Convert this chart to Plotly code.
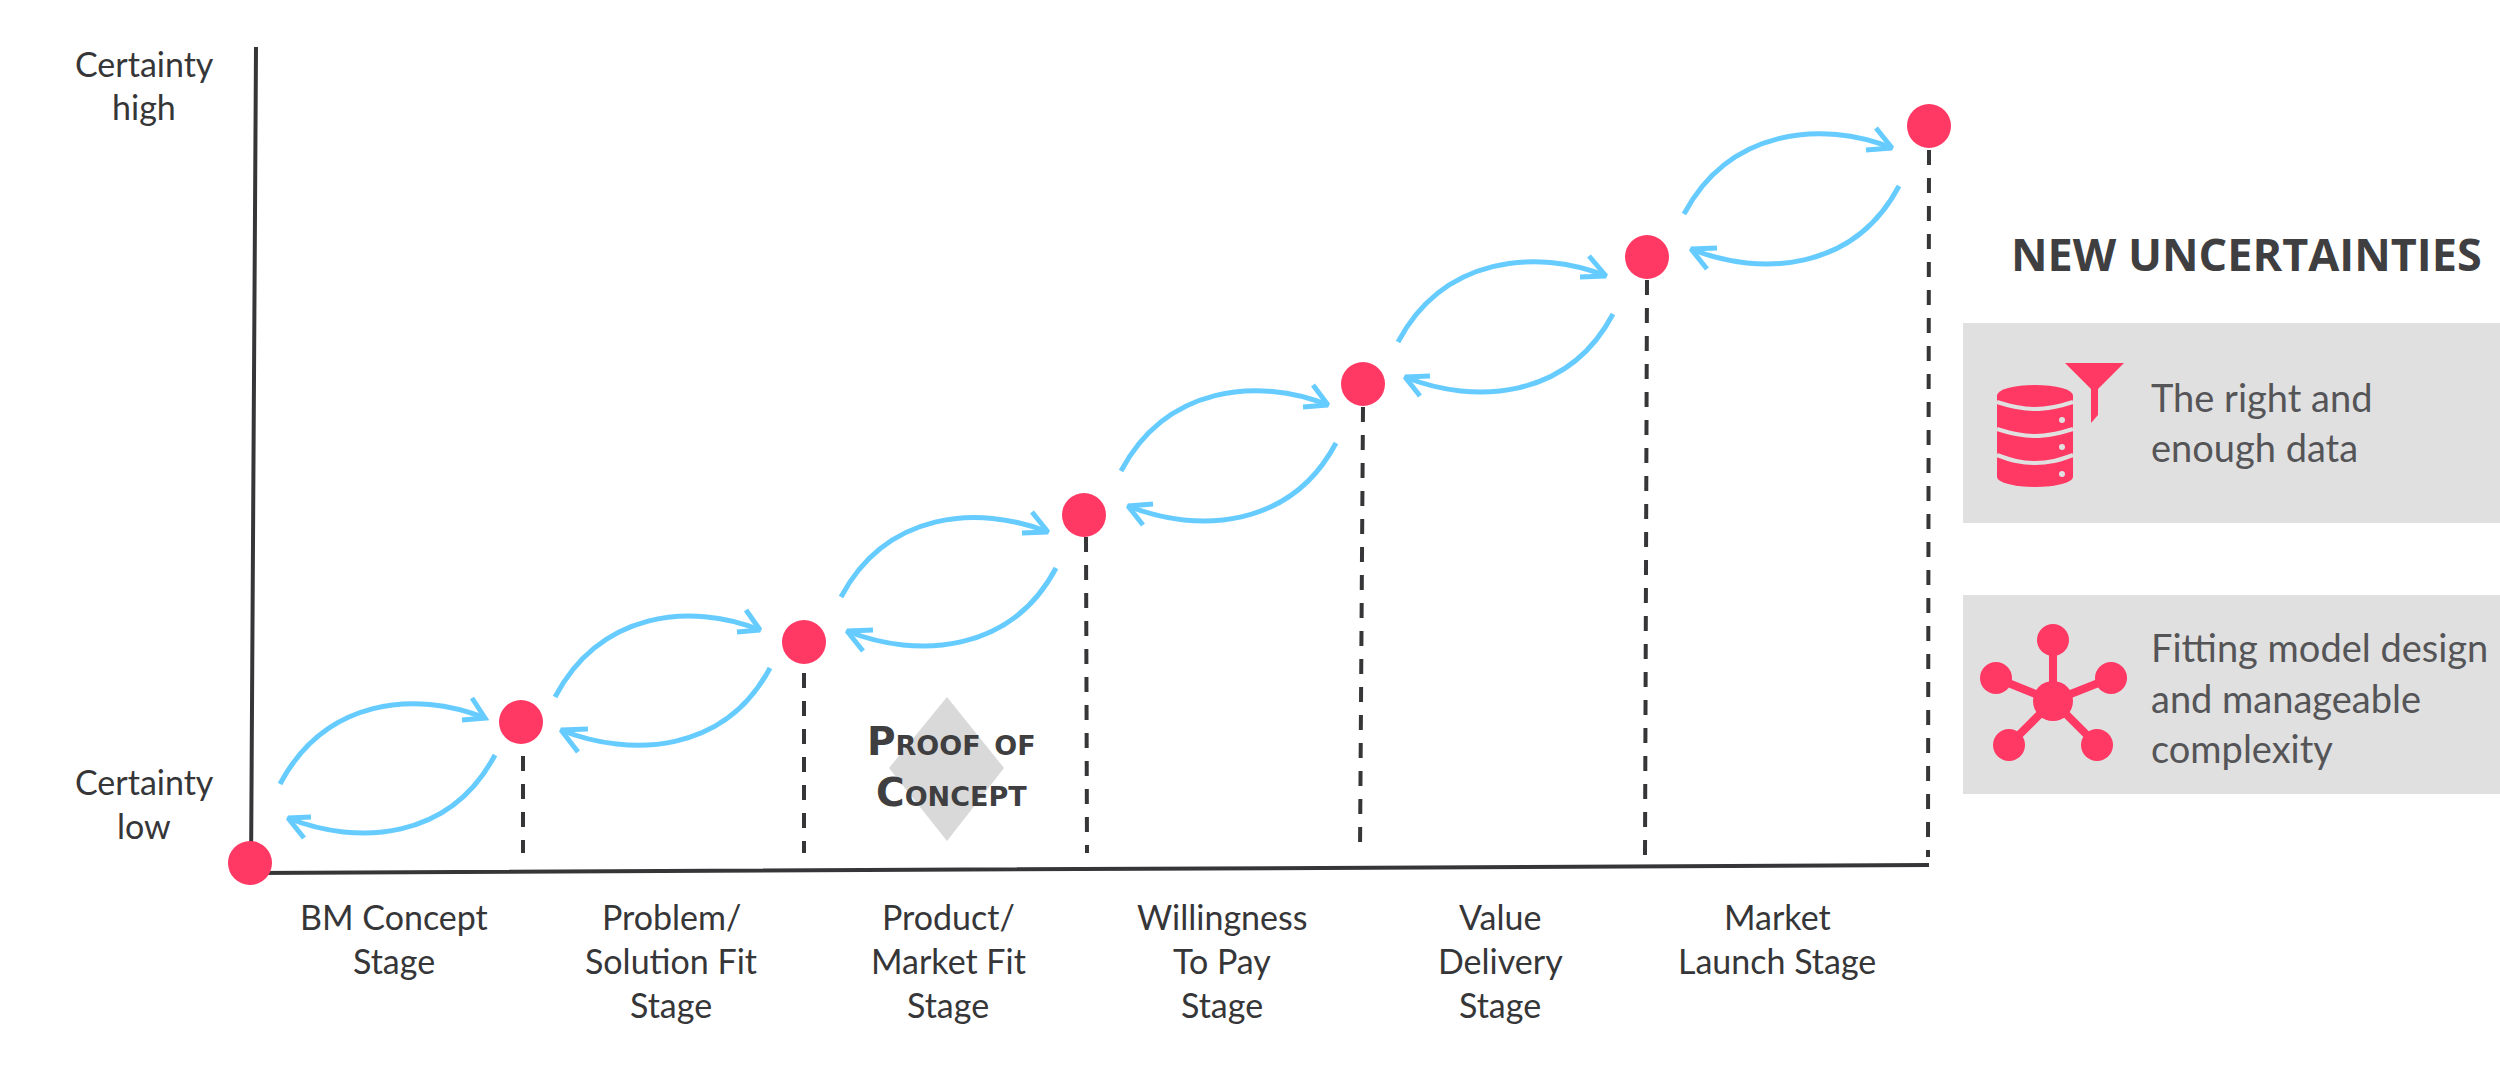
import plotly.graph_objects as go

stage_x=[250,521,804,1084,1363,1647,1929]
stage_y=[863,722,642,515,384,257,126]
dash_top_x=[523,804,1086,1363,1647,1929]
dash_top_y=[756,673,537,407,280,150]
dash_end_x=[523,804,1087,1360,1645,1928]
dash_end_y=[853,853,853,853,857,857]

axis_x=[256,251,1929]
axis_y=[47,873,865]

# arcs: start, two bezier handles, tip
up_x=[[280,325,415,485],
      [555,600,690,760],
      [841,886,978,1048],
      [1121,1166,1258,1328],
      [1398,1443,1536,1606],
      [1684,1729,1822,1892]]
up_y=[[784,699,690,718],
      [697,612,602,630],
      [597,512,504,532],
      [471,386,377,405],
      [342,257,248,276],
      [214,129,120,148]]
up_head_x=[[472,485,462],[746,760,737],[1032,1048,1022],[1313,1328,1303],[1589,1606,1580],[1876,1892,1866]]
up_head_y=[[698,718,720],[610,630,632],[512,532,533],[385,405,407],[256,276,277],[128,148,150]]

down_x=[[495,450,358,288],
        [770,725,631,561],
        [1056,1011,917,847],
        [1336,1291,1198,1128],
        [1613,1568,1475,1405],
        [1899,1854,1761,1691]]
down_y=[[755,840,846,818],
        [668,753,758,730],
        [568,653,659,631],
        [443,528,534,506],
        [314,399,405,377],
        [186,271,277,249]]
down_head_x=[[311,288,304],[588,561,578],[873,847,863],[1153,1128,1143],[1430,1405,1420],[1717,1691,1707]]
down_head_y=[[817,818,838],[729,730,752],[630,631,651],[504,506,525],[376,377,396],[248,249,269]]

stage_labels=[["BM Concept","Stage"],
              ["Problem/","Solution Fit","Stage"],
              ["Product/","Market Fit","Stage"],
              ["Willingness","To Pay","Stage"],
              ["Value","Delivery","Stage"],
              ["Market","Launch Stage"]]
stage_label_x=[394,671,948,1222,1500,1777]
stage_label_base=[928,972,1016]

funnel_x=[2065,2124,2098,2098,2091,2091]
funnel_y=[363,363,389,415,423,389]
db_dot_x=[2062,2062,2062]
db_dot_y=[420,447,474]
db_band_x=[1997,2016,2035,2054,2073]
db_band_y=[[402,407,409,407,402],[429,434,436,434,429],[455,461,463,461,455]]
hub_x=2053
hub_y=701
leaf_x=[2053,1996,2111,2009,2097]
leaf_y=[640,678,678,745,745]

pink="#ff3864"
blue="#66ccff"
dark="#363638"
grey="#e0e0e0"
FONT="Lato"
HEAD_FONT="Open Sans"

fig=go.Figure()

fig.add_shape(type="rect",x0=1963,x1=2500,y0=323,y1=523,fillcolor=grey,line_width=0,layer="below")
fig.add_shape(type="rect",x0=1963,x1=2500,y0=595,y1=794,fillcolor=grey,line_width=0,layer="below")
fig.add_shape(type="path",path="M 947 697 L 1004 768 L 947 841 L 889 768 Z",fillcolor="#d9d9d9",line_width=0,layer="below")
# database body
fig.add_shape(type="rect",x0=1997,x1=2073,y0=395,y1=477,fillcolor=pink,line_width=0,layer="below")
fig.add_shape(type="circle",x0=1997,x1=2073,y0=467,y1=487,fillcolor=pink,line_width=0,layer="below")
fig.add_shape(type="circle",x0=1997,x1=2073,y0=385,y1=406,fillcolor=pink,line_width=0,layer="below")

fig.add_trace(go.Scatter(x=axis_x,y=axis_y,mode="lines",line=dict(color=dark,width=4)))

for i in range(len(dash_top_x)):
    fig.add_trace(go.Scatter(x=[dash_top_x[i],dash_end_x[i]],y=[dash_top_y[i],dash_end_y[i]],mode="lines",
                             line=dict(color=dark,width=4,dash="15px,13px")))

for xs,ys in zip(up_x+down_x,up_y+down_y):
    arc="M {} {} C {} {} {} {} {} {}".format(xs[0],ys[0],xs[1],ys[1],xs[2],ys[2],xs[3],ys[3])
    fig.add_shape(type="path",path=arc,line=dict(color=blue,width=5),layer="below")
for xs,ys in zip(up_head_x+down_head_x,up_head_y+down_head_y):
    fig.add_trace(go.Scatter(x=xs,y=ys,mode="lines",line=dict(color=blue,width=5)))

fig.add_trace(go.Scatter(x=stage_x,y=stage_y,mode="markers",marker=dict(color=pink,size=44)))

# right hand icons
fig.add_trace(go.Scatter(x=funnel_x,y=funnel_y,mode="lines",fill="toself",fillcolor=pink,line=dict(color=pink,width=0)))
for ys in db_band_y:
    fig.add_trace(go.Scatter(x=db_band_x,y=ys,mode="lines",line=dict(color=grey,width=4,shape="spline")))
fig.add_trace(go.Scatter(x=db_dot_x,y=db_dot_y,mode="markers",marker=dict(color=grey,size=6)))
for lx,ly in zip(leaf_x,leaf_y):
    fig.add_trace(go.Scatter(x=[hub_x,lx],y=[hub_y,ly],mode="lines",line=dict(color=pink,width=8)))
fig.add_trace(go.Scatter(x=leaf_x,y=leaf_y,mode="markers",marker=dict(color=pink,size=32)))
fig.add_trace(go.Scatter(x=[hub_x],y=[hub_y],mode="markers",marker=dict(color=pink,size=40)))


def line_of_text(txt,x,base,size,color,anchor="center",bold=False,variant="normal",family=FONT):
    # baseline sits a bit under the middle of the text box
    fig.add_annotation(x=x,y=base-size*0.35,text=txt,showarrow=False,xanchor=anchor,yanchor="middle",
                       font=dict(family=family,size=size,color=color,weight="bold" if bold else "normal",variant=variant))


line_of_text("Certainty",144,75,34,dark)
line_of_text("high",144,118,34,dark)
line_of_text("Certainty",144,793,34,dark)
line_of_text("low",144,837,34,dark)

for lines,x in zip(stage_labels,stage_label_x):
    for txt,base in zip(lines,stage_label_base):
        line_of_text(txt,x,base,34,dark)

line_of_text("Proof of<br>Concept",951,781,39,"#3f3f41",bold=True,variant="small-caps",family="DejaVu Sans")

line_of_text("NEW UNCERTAINTIES",2246,269,45,"#3f3f41",bold=True,family=HEAD_FONT)
line_of_text("The right and",2149,410,38,"#555558",anchor="left")
line_of_text("enough data",2149,460,38,"#555558",anchor="left")
line_of_text("Fitting model design",2149,660,38,"#555558",anchor="left")
line_of_text("and manageable",2149,711,38,"#555558",anchor="left")
line_of_text("complexity",2149,761,38,"#555558",anchor="left")

fig.update_layout(width=2500,height=1068,margin=dict(l=0,r=0,t=0,b=0),showlegend=False,
                  paper_bgcolor="white",plot_bgcolor="white",hovermode=False)
fig.update_xaxes(visible=False,range=[0,2500])
fig.update_yaxes(visible=False,range=[1068,0])
fig.write_html("out.html",post_script="document.body.style.margin='0';",config={"displayModeBar":False})
